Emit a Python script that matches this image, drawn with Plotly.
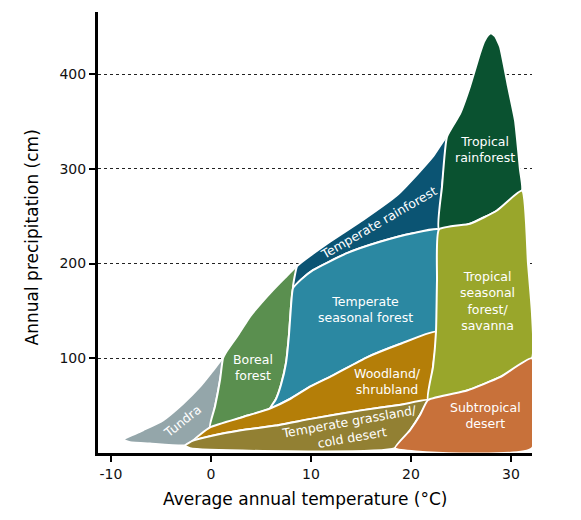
# Whittaker biome diagram

import plotly.graph_objects as go

# Biome outlines (average annual temperature in °C, annual precipitation in cm)
tundra_temp = [-8.8, -8.1, -6.1, -2.6, -1.8, -0.1, 0.4, 0.9, 1.2, 0.2, -1.1, -2.8, -4.8, -6.8, -8.8]
tundra_precip = [14, 11.5, 10, 8, 13, 27, 49, 77, 100, 87, 70, 52, 34.5, 24, 14]

boreal_temp = [-0.1, 0.4, 0.9, 1.2, 1.6, 2.8, 3.9, 5.0, 6.2, 7.4, 8.6, 8.2, 8.0, 7.8, 7.5, 7.0, 6.5, 5.9, 3.2, -0.1]
boreal_precip = [27, 49, 77, 100, 108, 126, 144, 158, 172, 185, 197, 174, 155, 125, 95, 72, 57, 47, 38, 27]

temp_rain_temp = [8.2, 8.6, 8.9, 11.9, 15.2, 18.6, 20.7, 22.2, 23.6, 23.1, 22.8, 20.2, 16.9, 13.6, 10.2, 9.0, 8.2]
temp_rain_precip = [174, 197, 200, 223, 246, 272, 295, 313, 334, 281, 236, 232, 223, 211, 193, 183, 174]

temp_seas_temp = [8.2, 9.0, 10.2, 13.6, 16.9, 20.2, 22.8, 22.6, 22.5, 18.9, 15.6, 12.2, 9.9, 7.9, 5.9, 6.5, 7.0, 7.5, 7.8, 8.0, 8.2]
temp_seas_precip = [174, 183, 193, 211, 223, 232, 236, 182, 128, 115, 101, 82, 70, 57, 47, 57, 72, 95, 125, 155, 174]

woodland_temp = [-1.8, -0.1, 3.2, 5.9, 7.9, 9.9, 12.2, 15.6, 18.9, 22.5, 22.2, 21.7, 19.0, 15.0, 10.0, 6.5, 3.0, 0.0, -1.8]
woodland_precip = [13, 27, 38, 47, 57, 70, 82, 101, 115, 128, 91, 56, 51, 45, 36, 29, 24, 18, 13]

grass_temp = [-2.6, -1.8, 0.0, 3.0, 6.5, 10.0, 15.0, 19.0, 21.7, 20.9, 19.9, 18.4, -2.1, -2.6]
grass_precip = [8, 13, 18, 24, 29, 36, 45, 51, 56, 40, 24, 5, 5, 8]

trop_rain_temp = [22.8, 23.1, 23.6, 24.9, 25.9, 26.9, 27.3, 27.7, 28.0, 28.4, 28.9, 29.7, 30.4, 30.9, 31.1, 28.6, 25.9, 22.8]
trop_rain_precip = [236, 281, 334, 358, 387, 422, 434, 441, 443, 440, 429, 387, 351, 299, 277, 256, 242, 236]

trop_seas_temp = [22.8, 25.9, 28.6, 31.1, 31.7, 32.1, 32.1, 28.9, 25.6, 21.7, 22.2, 22.5, 22.6, 22.8]
trop_seas_precip = [236, 242, 256, 277, 200, 147, 100, 80, 66, 56, 91, 128, 182, 236]

desert_temp = [21.7, 25.6, 28.9, 32.1, 32.1, 18.4, 19.9, 20.9, 21.7]
desert_precip = [56, 66, 80, 100, 5, 5, 24, 40, 56]

# Axis ticks
x_ticks = [-10, 0, 10, 20, 30]
x_tick_text = ['-10', '0', '10', '20', '30']
y_ticks = [100, 200, 300, 400]

# Colors
colors = {
    'tundra': '#94a6aa',
    'boreal': '#5a8f4f',
    'temp_rain': '#0b5473',
    'temp_seas': '#2b88a2',
    'woodland': '#b47e08',
    'grass': '#928033',
    'trop_rain': '#0a5230',
    'trop_seas': '#99a62b',
    'desert': '#c8713a',
}

biomes = [
    ('tundra', tundra_temp, tundra_precip),
    ('boreal', boreal_temp, boreal_precip),
    ('temp_rain', temp_rain_temp, temp_rain_precip),
    ('temp_seas', temp_seas_temp, temp_seas_precip),
    ('woodland', woodland_temp, woodland_precip),
    ('grass', grass_temp, grass_precip),
    ('trop_rain', trop_rain_temp, trop_rain_precip),
    ('trop_seas', trop_seas_temp, trop_seas_precip),
    ('desert', desert_temp, desert_precip),
]

# Labels: text, x, y, angle
labels = [
    ('Tundra', -2.9, 33, -38),
    ('Boreal<br>forest', 4.2, 90, 0),
    ('Temperate rainforest', 16.8, 243, -30),
    ('Temperate<br>seasonal forest', 15.4, 151, 0),
    ('Woodland/<br>shrubland', 17.6, 76, 0),
    ('Temperate grassland/<br>cold desert', 13.9, 25, -10),
    ('Tropical<br>rainforest', 27.4, 320, 0),
    ('Tropical<br>seasonal<br>forest/<br>savanna', 27.6, 160, 0),
    ('Subtropical<br>desert', 27.4, 40, 0),
]

FONT = 'DejaVu Sans'

fig = go.Figure()

for key, temps, precips in biomes:
    fig.add_trace(go.Scatter(
        x=temps,
        y=precips,
        mode='lines',
        fill='toself',
        fillcolor=colors[key],
        line=dict(color='white', width=2, shape='spline', smoothing=0.45),
        hoverinfo='skip',
        showlegend=False
    ))

for text, x, y, angle in labels:
    fig.add_annotation(
        x=x, y=y, text=text, textangle=angle,
        showarrow=False,
        font=dict(family=FONT, size=12.5, color='white')
    )

# Axis titles as annotations (the x title sits a little left of centre)
fig.add_annotation(
    xref='paper', yref='paper', x=0.477, y=-0.104,
    text='Average annual temperature (°C)', showarrow=False,
    xanchor='center', yanchor='middle',
    font=dict(family=FONT, size=17, color='black')
)
fig.add_annotation(
    xref='paper', yref='paper', x=-0.152, y=0.489,
    text='Annual precipitation (cm)', showarrow=False, textangle=-90,
    xanchor='center', yanchor='middle',
    font=dict(family=FONT, size=17, color='black')
)

# page body adds an 8px offset, so the figure is 8px smaller
fig.update_layout(
    width=573,
    height=512,
    margin=dict(l=90, r=49, t=4, b=67),
    plot_bgcolor='white',
    paper_bgcolor='white',
    font=dict(family=FONT, color='#111111'),
    xaxis=dict(
        range=[-11.3, 32.1],
        tickvals=x_ticks,
        ticktext=x_tick_text,
        ticks='outside', ticklen=6, tickwidth=2, tickcolor='black',
        showline=True, linewidth=3, linecolor='black',
        showgrid=False, zeroline=False,
        tickfont=dict(size=14)
    ),
    yaxis=dict(
        range=[0, 465.5],
        tickvals=y_ticks,
        ticks='outside', ticklen=6, tickwidth=2, tickcolor='black',
        showline=True, linewidth=3, linecolor='black',
        showgrid=True, gridcolor='#222222', gridwidth=1, griddash='dot',
        zeroline=False,
        tickfont=dict(size=14)
    )
)

fig.write_html("out.html")
